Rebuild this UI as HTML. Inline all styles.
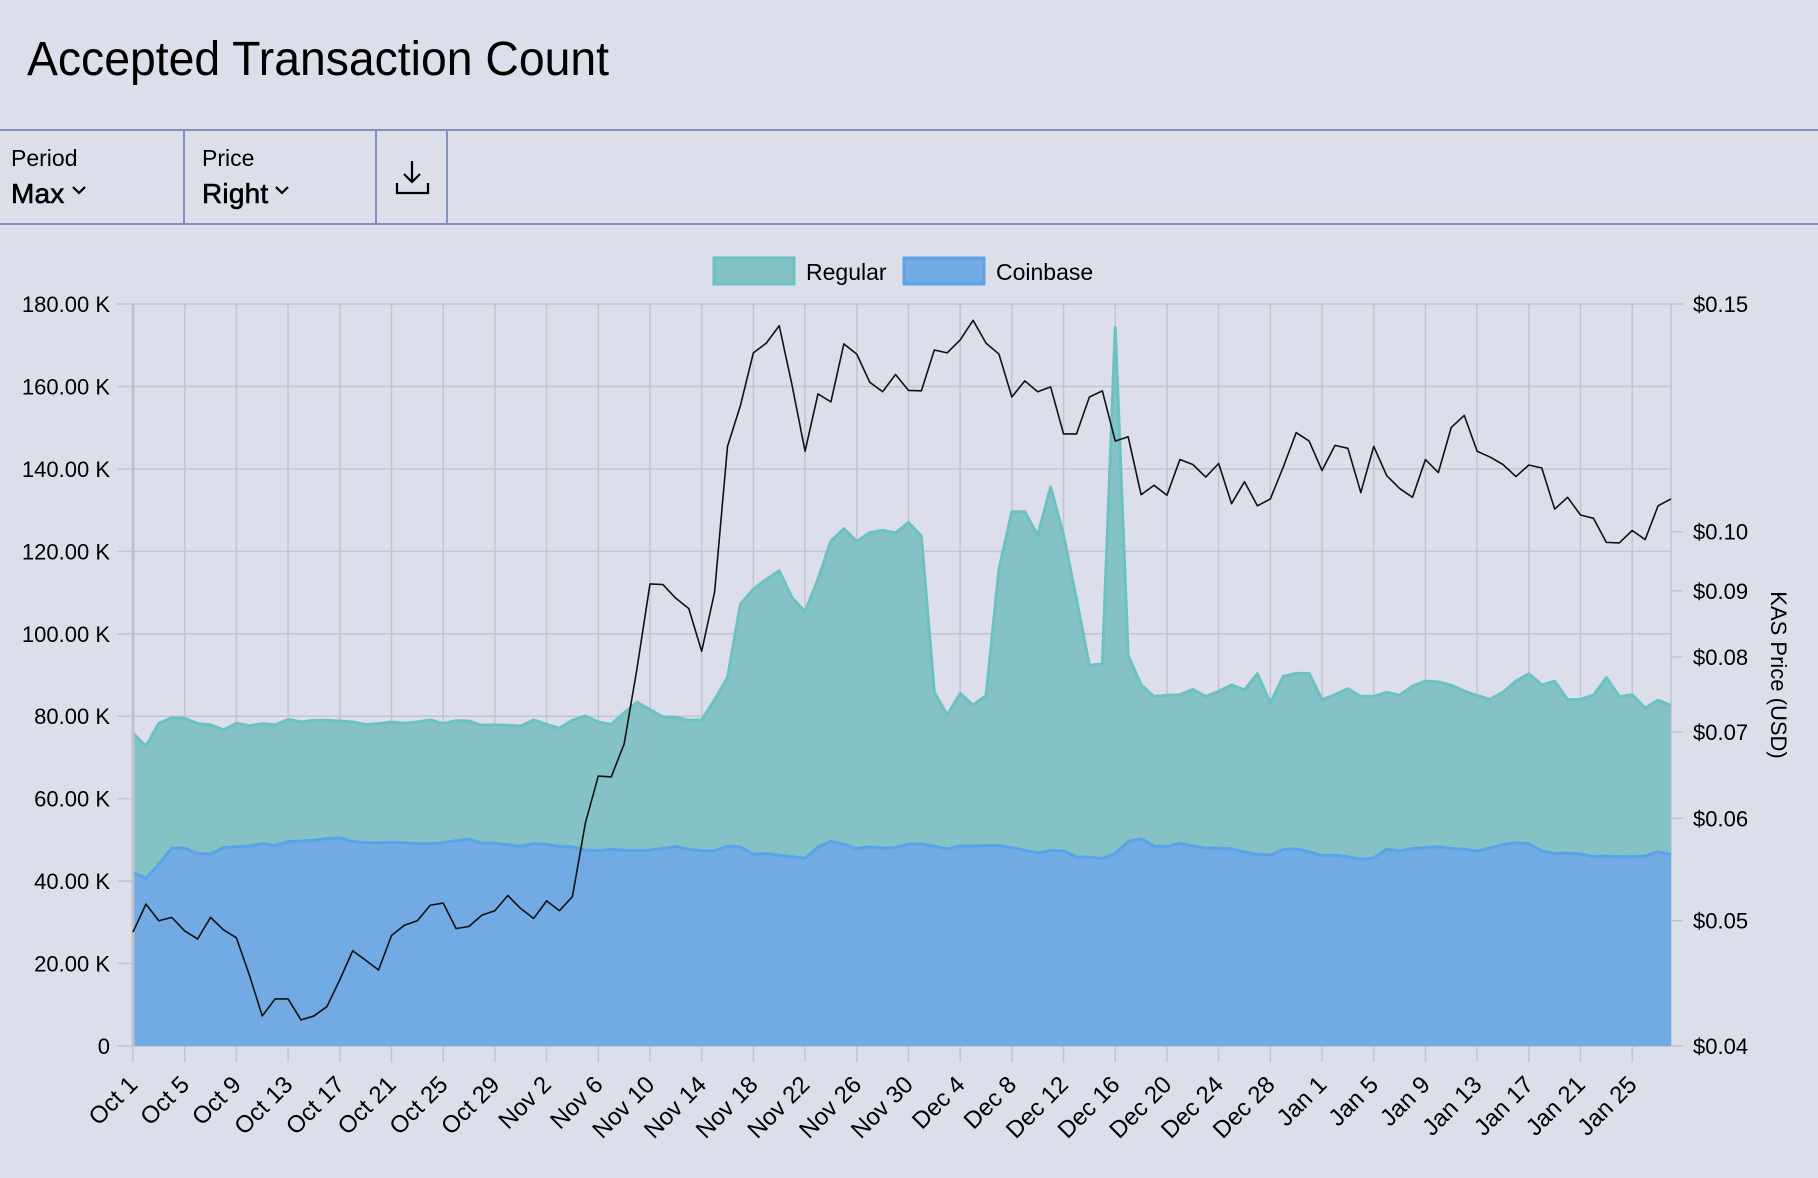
<!DOCTYPE html>
<html><head><meta charset="utf-8"><style>
html,body{margin:0;padding:0;background:#dcdfe9;width:1818px;height:1178px;overflow:hidden;font-family:"Liberation Sans",sans-serif;color:#000}
#wrap{position:relative;width:1818px;height:1178px}
.tb{position:absolute;top:129px;height:92px;border-top:2px solid #8391bb;border-bottom:2px solid #8391bb;left:0;width:1818px;box-sizing:content-box}
.cell{position:absolute;top:0;height:92px;border-right:2px solid #8391bb}
.lbl{position:absolute;left:11px;top:14px;font-size:23px}
.val{position:absolute;left:11px;top:47px;font-size:28px;-webkit-text-stroke:0.6px #000;letter-spacing:0.2px;white-space:nowrap}
.chev{display:inline-block;vertical-align:middle;margin-left:6px;position:relative;top:-6px}
svg{position:absolute;left:0;top:0}
</style></head><body><div id="wrap">
<div class="tb">
 <div class="cell" style="left:0;width:183px"><div class="lbl">Period</div><div class="val">Max<svg class="chev" style="position:relative" width="16" height="10"><path d="M2 2 L8 8 L14 2" fill="none" stroke="#000" stroke-width="2.2"/></svg></div></div>
 <div class="cell" style="left:185px;width:190px"><div class="lbl" style="left:17px">Price</div><div class="val" style="left:17px">Right<svg class="chev" style="position:relative" width="16" height="10"><path d="M2 2 L8 8 L14 2" fill="none" stroke="#000" stroke-width="2.2"/></svg></div></div>
 <div class="cell" style="left:377px;width:69px">
  <svg width="69" height="92" style="position:absolute;left:0;top:0"><path d="M35 30 V51 M27 43 L35 51 L43 43 M20 52 V62 H51 V52" fill="none" stroke="#000" stroke-width="2.2"/></svg>
 </div>
</div>
<svg id="chart" width="1818" height="1178"></svg>
</div>
<script>
const total=[75.9,72.7,78.3,79.6,79.5,78.2,77.9,76.7,78.3,77.7,78.2,77.9,79.2,78.6,79.0,79.0,78.8,78.6,78.0,78.2,78.6,78.3,78.6,79.1,78.2,78.9,78.8,77.8,77.9,77.8,77.6,79.1,
78.0,77.1,79.0,80.1,78.6,78.0,80.8,83.4,81.6,79.8,79.8,79.0,79.1,84.0,89.4,107.2,110.8,113.2,115.3,108.7,105.4,113.2,122.5,125.5,122.4,124.5,125.1,124.5,127.0,123.7,85.8,
80.3,85.5,82.7,85.0,115.6,129.6,129.6,123.9,135.6,123.9,108.4,92.3,92.7,174.3,94.7,87.6,84.8,85.1,85.2,86.5,84.8,86.0,87.6,86.4,90.3,83.2,89.7,90.4,90.4,84.0,85.2,
86.7,84.8,84.8,85.8,85.1,87.3,88.5,88.3,87.5,86.1,85.0,84.1,85.8,88.5,90.3,87.6,88.5,84.0,84.1,85.1,89.4,84.8,85.2,82.0,83.9,82.6];
const coinbase=[42.1,40.7,44.1,48.0,48.0,46.7,46.6,48.1,48.3,48.5,49.1,48.6,49.6,49.7,49.9,50.3,50.5,49.6,49.3,49.3,49.4,49.3,49.1,49.1,49.3,49.8,50.2,49.2,49.2,48.8,48.5,49.1,
48.9,48.4,48.3,47.5,47.4,47.7,47.5,47.4,47.5,47.9,48.4,47.7,47.4,47.3,48.5,48.3,46.5,46.7,46.3,45.9,45.5,48.3,49.6,48.9,47.9,48.3,48.0,48.1,49.0,49.0,48.5,
47.8,48.5,48.5,48.6,48.6,48.1,47.5,46.8,47.5,47.3,45.9,45.8,45.5,46.7,49.6,50.3,48.5,48.4,49.2,48.5,48.0,48.0,47.8,47.1,46.5,46.3,47.7,47.8,47.1,46.2,46.3,
45.9,45.3,45.6,47.8,47.3,47.9,48.1,48.3,47.9,47.7,47.3,48.0,48.9,49.3,49.1,47.3,46.7,46.8,46.6,45.9,46.1,45.9,45.9,46.1,47.1,46.5];
const price=[.0490,.0515,.0500,.0503,.0491,.0484,.0503,.0492,.0485,.0454,.0422,.0435,.0435,.0419,.0422,.0429,.0450,.0474,.0466,.0458,.0487,.0496,.0500,.0514,.0516,.0493,.0495,.0505,.0509,.0523,.0511,.0502,
.0518,.0509,.0522,.0595,.0647,.0646,.0685,.0784,.0911,.0910,.0888,.0872,.0808,.0898,.1164,.1252,.1375,.1399,.1443,.1297,.1154,.1278,.1260,.1397,.1372,.1305,.1283,.1323,.1286,.1285,.1382,
.1375,.1407,.1457,.1399,.1372,.1271,.1308,.1283,.1294,.1190,.1190,.1271,.1285,.1175,.1184,.1068,.1086,.1067,.1137,.1127,.1102,.1129,.1051,.1093,.1047,.1060,.1122,.1193,.1175,.1115,.1166,
.1160,.1072,.1164,.1105,.1080,.1063,.1137,.1111,.1204,.1230,.1154,.1142,.1127,.1103,.1126,.1120,.1041,.1063,.1030,.1024,.0981,.0980,.1002,.0986,.1047,.1060];
const xLabels=["Oct 1","Oct 5","Oct 9","Oct 13","Oct 17","Oct 21","Oct 25","Oct 29","Nov 2","Nov 6","Nov 10","Nov 14","Nov 18","Nov 22","Nov 26","Nov 30","Dec 4","Dec 8","Dec 12","Dec 16","Dec 20","Dec 24","Dec 28","Jan 1","Jan 5","Jan 9","Jan 13","Jan 17","Jan 21","Jan 25"];
const xLabelEvery=4;
const yTicks=[0,20,40,60,80,100,120,140,160,180];
const priceTicks=[0.04,0.05,0.06,0.07,0.08,0.09,0.10,0.15];

const L=133,R=1671,T=304,B=1046,N=total.length;
const X=d=>L+d*(R-L)/(N-1);
const YL=v=>B-v/180*(B-T);
const YR=p=>B-Math.log(p/0.04)/Math.log(0.15/0.04)*(B-T);
const svg=document.getElementById('chart');
const NS='http://www.w3.org/2000/svg';
function mk(tag,attrs,parent){const e=document.createElementNS(NS,tag);for(const k in attrs)e.setAttribute(k,attrs[k]);(parent||svg).appendChild(e);return e;}

let t=mk('text',{x:27,y:75,'font-size':48,textLength:582,lengthAdjust:'spacingAndGlyphs'});t.textContent='Accepted Transaction Count';



const grid=mk('g',{stroke:'#c2c4cf','stroke-width':1.5});


yTicks.forEach(v=>{const l=mk('line',{x1:117,x2:R,y1:YL(v),y2:YL(v)},grid);

});
xLabels.forEach((s,i)=>{const x=X(i*xLabelEvery);const l=mk('line',{x1:x,x2:x,y1:T,y2:B+16},grid);

});
mk('line',{x1:R,x2:R,y1:T,y2:B},grid);
priceTicks.forEach(p=>{const l=mk('line',{x1:R,x2:R+12,y1:YR(p),y2:YR(p)},grid);

});

let topPts=total.map((v,i)=>X(i)+','+YL(v));
let cbPts=coinbase.map((v,i)=>X(i)+','+YL(v));
let reg=mk('polygon',{points:topPts.join(' ')+' '+cbPts.slice().reverse().join(' '),fill:'#85c2c5'});


let cb=mk('polygon',{points:cbPts.join(' ')+' '+X(N-1)+','+B+' '+X(0)+','+B,fill:'#72abe3'});


let rl=mk('polyline',{points:topPts.join(' '),fill:'none',stroke:'#6cc1c1','stroke-width':3,'stroke-linejoin':'round'});


let cl=mk('polyline',{points:cbPts.join(' '),fill:'none',stroke:'#5aa3e9','stroke-width':3,'stroke-linejoin':'round'});


let ax=mk('line',{x1:L,x2:L,y1:T,y2:B,stroke:'#bfc1cc','stroke-width':3});


let pl=mk('polyline',{points:price.map((p,i)=>X(i)+','+YR(p)).join(' '),fill:'none',stroke:'#111','stroke-width':1.6,'stroke-linejoin':'round'});



yTicks.forEach(v=>{const e=mk('text',{x:110,y:YL(v)+8,'font-size':22,'text-anchor':'end'});e.textContent=v===0?'0':v.toFixed(2)+' K';

});
priceTicks.forEach(p=>{const e=mk('text',{x:1693,y:YR(p)+8,'font-size':22});e.textContent='$'+p.toFixed(2);

});
let rt=mk('text',{transform:'translate(1771,675) rotate(90)','font-size':22,'text-anchor':'middle'});rt.textContent='KAS Price (USD)';


xLabels.forEach((s,i)=>{const x=X(i*xLabelEvery);const e=mk('text',{transform:`translate(${x+6},1086) rotate(-45)`,'font-size':24,'text-anchor':'end'});e.textContent=s;

});

const lg=mk('g',{});


[['Regular',714,'#85c2c5','#6cc1c1'],['Coinbase',904,'#72abe3','#5aa3e9']].forEach(([n,x,f,s])=>{
 const g=mk('g',{},lg);
 
 
 mk('rect',{x:x,y:258,width:80,height:26,fill:f,stroke:s,'stroke-width':3},g);
 const e=mk('text',{x:x+92,y:280,'font-size':23},g);e.textContent=n;});
</script></body></html>
